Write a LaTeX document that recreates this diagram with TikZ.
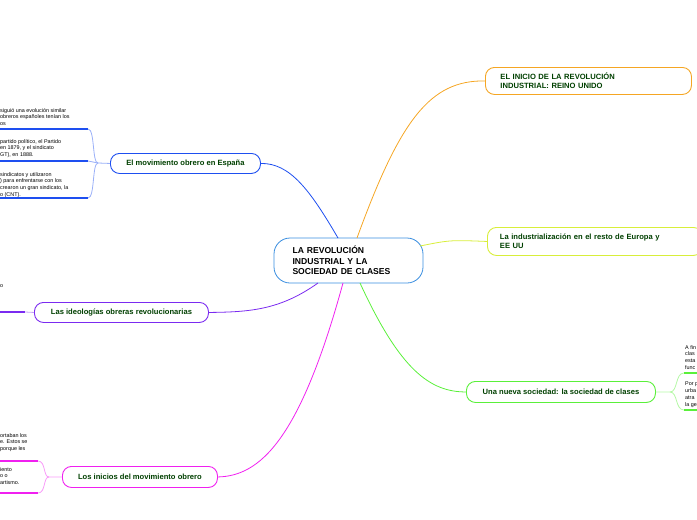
\documentclass[tikz,border=0pt]{standalone}
\usepackage{fontspec}
\setmainfont{Liberation Sans}
\begin{document}
\begin{tikzpicture}[x=1pt,y=-1pt,
  topic/.style={draw, line width=0.9pt, rounded corners=9pt, fill=white, font=\fontsize{7.6}{9}\selectfont\bfseries, text=green!25!black, align=left, inner xsep=9pt, inner ysep=4pt, anchor=north west},
  sub/.style={font=\fontsize{5.4}{6.7}\selectfont, align=left, anchor=north west, inner sep=0pt},
  conn/.style={line width=0.8pt}]
\useasboundingbox (0,0) rectangle (697,520);
\clip (0,0) rectangle (697,520);
\definecolor{cblue}{HTML}{1E4FF0}
\definecolor{corange}{HTML}{F5A623}
\definecolor{cyellow}{HTML}{D8EE3A}
\definecolor{cgreen}{HTML}{5AF03A}
\definecolor{cpurple}{HTML}{7B2BF0}
\definecolor{cmag}{HTML}{F020F0}
\definecolor{cmid}{HTML}{3A8EE0}

% center
\node[draw=cmid, line width=0.8pt, rounded corners=16pt, minimum width=149pt, minimum height=45pt, fill=white,
  font=\fontsize{8.6}{10.5}\selectfont\bfseries, text=black, align=left, text width=112pt] (c) at (348.5,260.5)
  {LA REVOLUCIÓN\\INDUSTRIAL Y LA\\SOCIEDAD DE CLASES};

% topics
\node[topic, draw=corange, minimum width=206pt, minimum height=27pt, text width=176pt, inner xsep=14pt] (t1) at (485,67) {EL INICIO DE LA REVOLUCIÓN\\INDUSTRIAL: REINO UNIDO};
\node[topic, draw=cyellow, minimum width=215pt, minimum height=28pt, text width=190pt, inner xsep=12pt] (t2) at (487,227) {La industrialización en el resto de Europa y\\EE UU};
\node[topic, draw=cgreen, minimum width=189pt, minimum height=21pt] (t3) at (466,381) {Una nueva sociedad: la sociedad de clases};
\node[topic, draw=cblue, minimum width=150pt, minimum height=20pt] (t4) at (110,153) {El movimiento obrero en España};
\node[topic, draw=cpurple, minimum width=174pt, minimum height=20pt] (t5) at (34,302) {Las ideologías obreras revolucionarias};
\node[topic, draw=cmag, minimum width=155pt, minimum height=21pt] (t6) at (62,466) {Los inicios del movimiento obrero};

% main connectors
\draw[conn, corange] (357,238) .. controls (400,120) and (430,80) .. (t1.west);
\draw[conn, cyellow] (420,246) .. controls (450,240) .. (t2.west);
\draw[conn, cgreen] (360,283) .. controls (400,370) and (430,392) .. (t3.west);
\draw[conn, cblue] (338,238) .. controls (310,190) and (290,163) .. (t4.east);
\draw[conn, cpurple] (318,283) .. controls (280,310) and (250,312) .. (t5.east);
\draw[conn, cmag] (343,283) .. controls (300,440) and (260,476) .. (t6.east);

% blue subtopics
\coordinate (bf) at (98,163);
\draw[conn, cblue!45] (t4.west) -- (bf);
\draw[conn, cblue!45] (bf) .. controls (92,163) and (95,129) .. (88,129);
\draw[conn, cblue!45] (bf) -- (88,161);
\draw[conn, cblue!45] (bf) .. controls (92,163) and (95,198) .. (88,198);
\draw[line width=1.2pt, cblue] (0,129) -- (88,129);
\draw[line width=1.2pt, cblue] (0,161) -- (88,161);
\draw[line width=1.2pt, cblue] (0,198) -- (88,198);
\node[sub] (s1) at (0,108) {siguió una evolución similar\\obreros españoles tenían los\\os};
\node[sub] (s2) at (0,139) {partido político, el Partido\\en 1879, y el sindicato\\GT), en 1888.};
\node[sub] (s3) at (0,172) {sindicatos y utilizaron\\) para enfrentarse con los\\crearon un gran sindicato, la\\o (CNT).};

% purple
\draw[conn, cpurple!45] (t5.west) -- (25,312);
\draw[line width=1.2pt, cpurple] (0,312) -- (25,312);
\node[sub] (s4) at (0,284) {o};

% magenta
\coordinate (mf) at (49,477);
\draw[conn, cmag!45] (t6.west) -- (mf);
\draw[conn, cmag!45] (mf) .. controls (43,477) and (46,461) .. (38,461);
\draw[conn, cmag!45] (mf) .. controls (43,477) and (46,493) .. (38,493);
\draw[line width=1.2pt, cmag] (0,461) -- (38,461);
\draw[line width=1.2pt, cmag] (0,493) -- (38,493);
\node[sub] (s5) at (0,433) {ortaban los\\e. Estos se\\porque les};
\node[sub] (s6) at (0,467) {iento\\o o\\artismo.};

% green
\coordinate (gf) at (670,392);
\draw[conn, cgreen!45] (t3.east) -- (gf);
\draw[conn, cgreen!45] (gf) .. controls (678,392) and (675,373) .. (684,373);
\draw[conn, cgreen!45] (gf) .. controls (678,392) and (675,410) .. (684,410);
\draw[line width=1.2pt, cgreen] (684,373) -- (697,373);
\draw[line width=1.2pt, cgreen] (684,410) -- (697,410);
\node[sub] (s7) at (685,345) {A fin\\clas\\esta\\func};
\node[sub] (s8) at (685,382) {Por p\\urba\\atra\\la ge};
\end{tikzpicture}
\end{document}
